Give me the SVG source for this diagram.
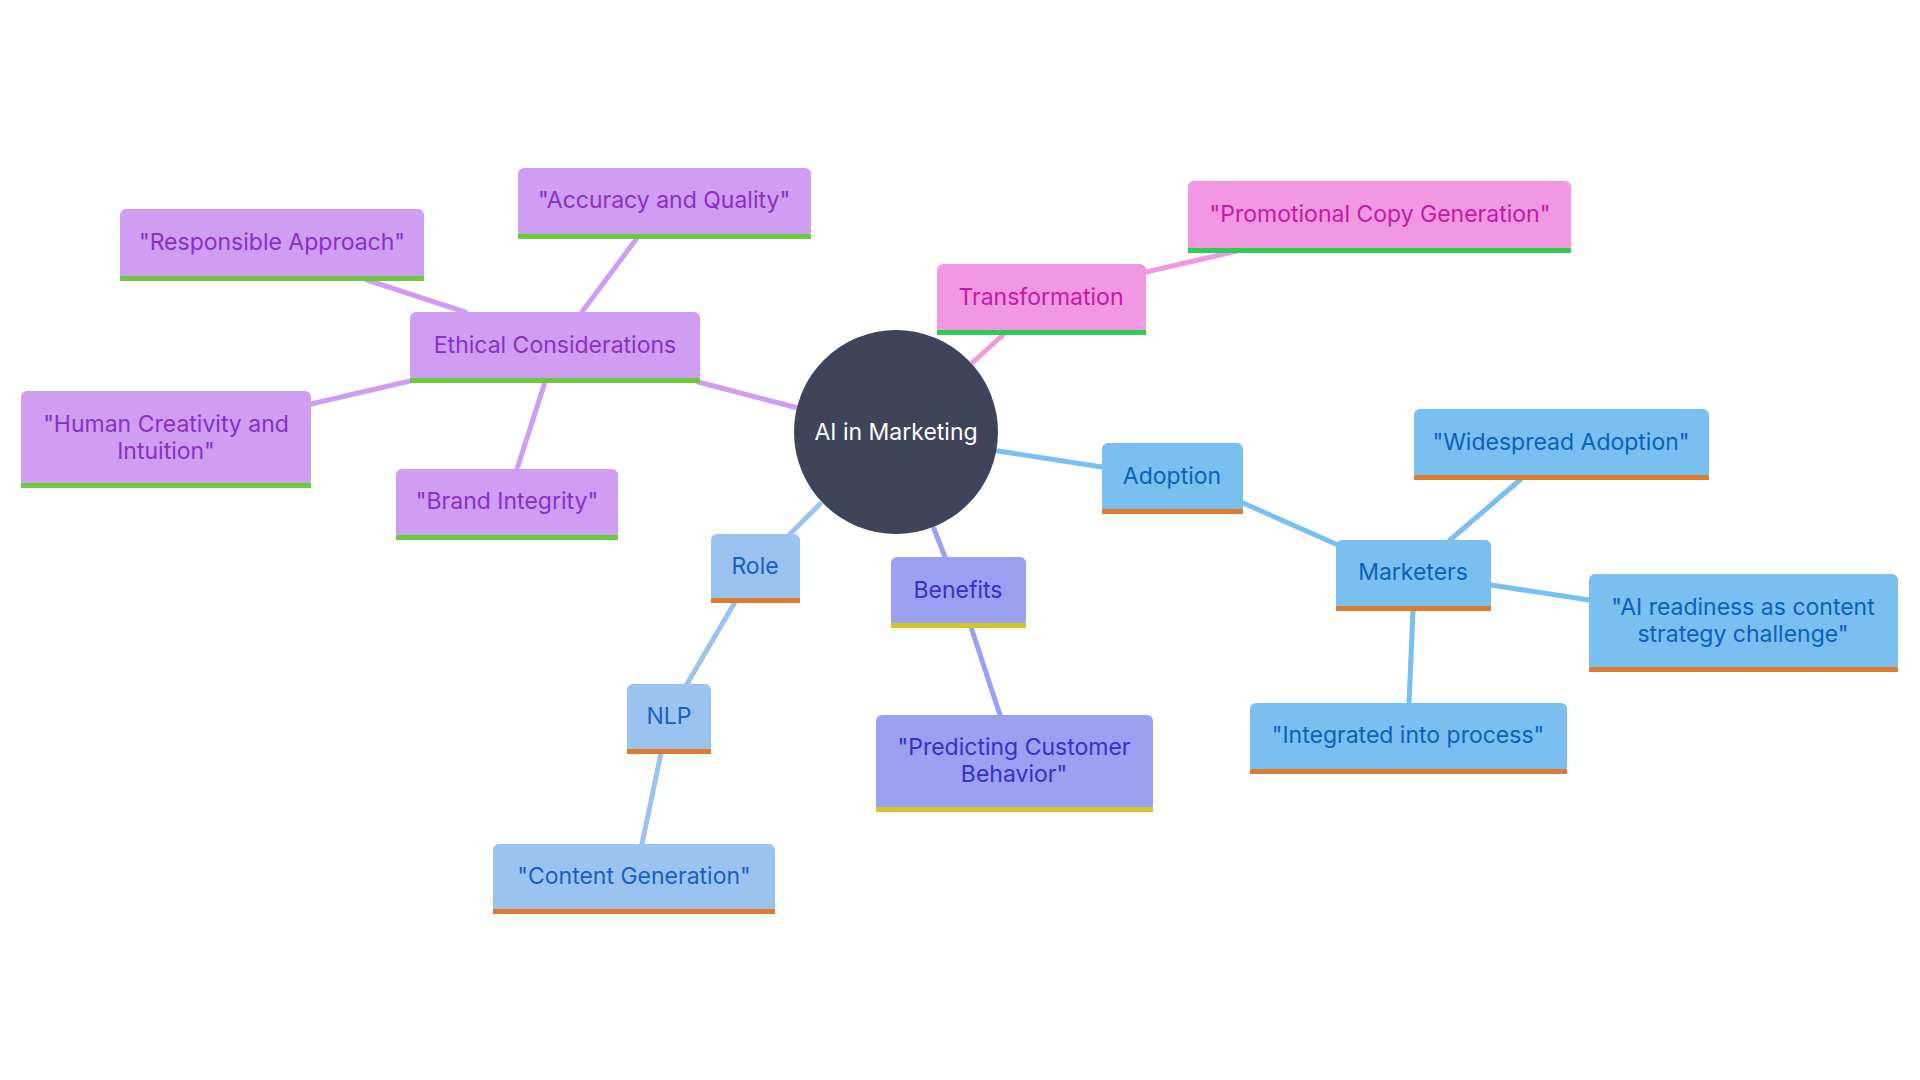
<svg xmlns="http://www.w3.org/2000/svg" width="1920" height="1080" viewBox="0 0 1920 1080">
<style>
text{font-family:Inter,"Noto Sans",sans-serif;font-size:23px;text-anchor:middle;dominant-baseline:central}
.e{fill:none;stroke-width:5;stroke-linecap:round}
.pu rect.b{fill:#cf9df2}.pu text{fill:#8a2fc9}.pu rect.u{fill:#6cc93a}
.pi rect.b{fill:#f297e2}.pi text{fill:#c41aa6}.pi rect.u{fill:#2ecc50}
.bl rect.b{fill:#79bff0}.bl text{fill:#0b62b8}.bl rect.u{fill:#e07a2e}
.lb rect.b{fill:#9ac3ef}.lb text{fill:#1a5fbf}.lb rect.u{fill:#e07a2e}
.vi rect.b{fill:#9aa0f2}.vi text{fill:#3a2fc4}.vi rect.u{fill:#d6c428}
</style>
<rect width="1920" height="1080" fill="#fff"/>
<g id="connectors">
<g stroke="#cf9df2" class="e">
<line class="e" x1="798" y1="408" x2="698" y2="382"/>
<line class="e" x1="582" y1="312" x2="637" y2="238"/>
<line class="e" x1="465" y1="312" x2="367" y2="280"/>
<line class="e" x1="410" y1="381" x2="311" y2="404"/>
<line class="e" x1="545" y1="382" x2="517" y2="469"/>
</g>
<g stroke="#f297e2">
<line class="e" x1="973" y1="362" x2="1004" y2="334"/>
<line class="e" x1="1146" y1="272" x2="1237" y2="251"/>
</g>
<g stroke="#79bff0">
<line class="e" x1="998" y1="451" x2="1102" y2="467"/>
<line class="e" x1="1243" y1="503" x2="1338" y2="545"/>
<line class="e" x1="1450" y1="540" x2="1521" y2="479"/>
<line class="e" x1="1491" y1="585" x2="1589" y2="600"/>
<line class="e" x1="1413" y1="610" x2="1409" y2="703"/>
</g>
<g stroke="#9ac3ef">
<line class="e" x1="820" y1="504" x2="790" y2="534"/>
<line class="e" x1="735" y1="602" x2="687" y2="684"/>
<line class="e" x1="661" y1="753" x2="642" y2="844"/>
</g>
<g stroke="#9aa0f2">
<line class="e" x1="934" y1="529" x2="945" y2="557"/>
<line class="e" x1="971" y1="627" x2="1000" y2="715"/>
</g>
</g>
<g id="center"><circle cx="896" cy="432" r="102" fill="#40445a"/><text x="896" y="432" fill="#fff">AI in Marketing</text></g>
<g id="ethical" class="pu"><rect class="b" x="410" y="312" width="290" height="70" rx="6"/><rect class="u" x="410" y="378" width="290" height="5"/><text x="555" y="345">Ethical Considerations</text></g>
<g id="accuracy" class="pu"><rect class="b" x="518" y="168" width="293" height="70" rx="6"/><rect class="u" x="518" y="234" width="293" height="5"/><text x="664" y="200">"Accuracy and Quality"</text></g>
<g id="responsible" class="pu"><rect class="b" x="120" y="209" width="304" height="71" rx="6"/><rect class="u" x="120" y="276" width="304" height="5"/><text x="272" y="242">"Responsible Approach"</text></g>
<g id="human" class="pu"><rect class="b" x="21" y="391" width="290" height="96" rx="6"/><rect class="u" x="21" y="483" width="290" height="5"/><text x="166" y="424">"Human Creativity and</text><text x="166" y="451">Intuition"</text></g>
<g id="brand" class="pu"><rect class="b" x="396" y="469" width="222" height="70" rx="6"/><rect class="u" x="396" y="535" width="222" height="5"/><text x="507" y="501">"Brand Integrity"</text></g>
<g id="transformation" class="pi"><rect class="b" x="937" y="264" width="209" height="70" rx="6"/><rect class="u" x="937" y="330" width="209" height="5"/><text x="1041" y="297">Transformation</text></g>
<g id="promo" class="pi"><rect class="b" x="1188" y="181" width="383" height="71" rx="6"/><rect class="u" x="1188" y="248" width="383" height="5"/><text x="1380" y="214">"Promotional Copy Generation"</text></g>
<g id="adoption" class="bl"><rect class="b" x="1102" y="443" width="141" height="70" rx="6"/><rect class="u" x="1102" y="509" width="141" height="5"/><text x="1172" y="476">Adoption</text></g>
<g id="marketers" class="bl"><rect class="b" x="1336" y="540" width="155" height="70" rx="6"/><rect class="u" x="1336" y="606" width="155" height="5"/><text x="1413" y="572">Marketers</text></g>
<g id="widespread" class="bl"><rect class="b" x="1414" y="409" width="295" height="70" rx="6"/><rect class="u" x="1414" y="475" width="295" height="5"/><text x="1561" y="442">"Widespread Adoption"</text></g>
<g id="readiness" class="bl"><rect class="b" x="1589" y="574" width="309" height="97" rx="6"/><rect class="u" x="1589" y="667" width="309" height="5"/><text x="1743" y="607">"AI readiness as content</text><text x="1743" y="634">strategy challenge"</text></g>
<g id="integrated" class="bl"><rect class="b" x="1250" y="703" width="317" height="70" rx="6"/><rect class="u" x="1250" y="769" width="317" height="5"/><text x="1408" y="735">"Integrated into process"</text></g>
<g id="role" class="lb"><rect class="b" x="711" y="534" width="89" height="68" rx="6"/><rect class="u" x="711" y="598" width="89" height="5"/><text x="755" y="566">Role</text></g>
<g id="nlp" class="lb"><rect class="b" x="627" y="684" width="84" height="69" rx="6"/><rect class="u" x="627" y="749" width="84" height="5"/><text x="669" y="716">NLP</text></g>
<g id="content" class="lb"><rect class="b" x="493" y="844" width="282" height="69" rx="6"/><rect class="u" x="493" y="909" width="282" height="5"/><text x="634" y="876">"Content Generation"</text></g>
<g id="benefits" class="vi"><rect class="b" x="891" y="557" width="135" height="70" rx="6"/><rect class="u" x="891" y="623" width="135" height="5"/><text x="958" y="590">Benefits</text></g>
<g id="predicting" class="vi"><rect class="b" x="876" y="715" width="277" height="96" rx="6"/><rect class="u" x="876" y="807" width="277" height="5"/><text x="1014" y="747">"Predicting Customer</text><text x="1014" y="774">Behavior"</text></g>
</svg>
